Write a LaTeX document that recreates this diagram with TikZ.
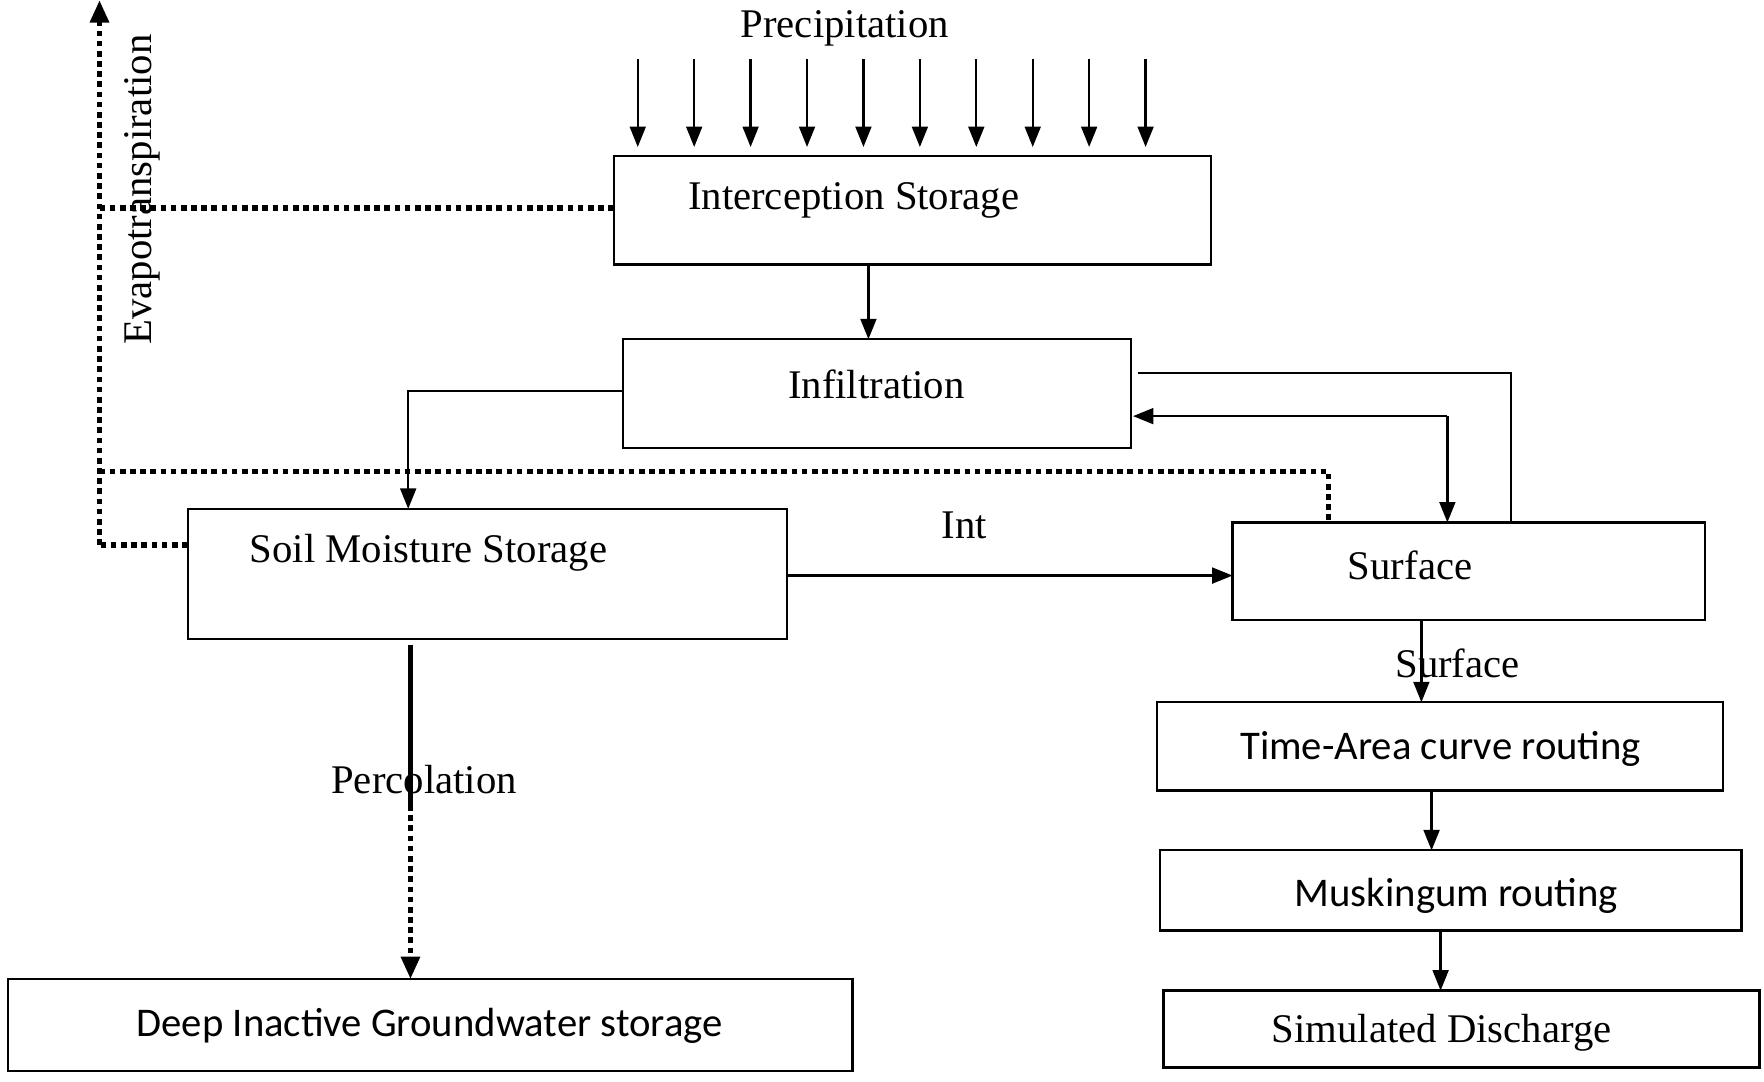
\documentclass[tikz,border=0pt]{standalone}
\usepackage{fontspec}
\setmainfont{Liberation Serif}
\newfontfamily\sansf{Carlito}
\usetikzlibrary{arrows.meta}
\begin{document}
\begin{tikzpicture}[x=0.5pt,y=-0.5pt,
  box/.style={draw,line width=1pt,inner sep=0pt},
  ar/.style={line width=1pt,-{Triangle[length=9pt,width=7pt]}},
  ln/.style={line width=1pt},
  dt/.style={line width=2.5pt,dash pattern=on 2.5pt off 2pt},
  lab/.style={font=\fontsize{18}{20}\selectfont},
  slab/.style={font=\sansf\fontsize{18}{20}\selectfont}]
\useasboundingbox (0,0) rectangle (1560,956);
% boxes
\node[box,minimum width=264pt,minimum height=48pt] (int) at (807,186) {};
\node[lab] at (755,177) {Interception Storage};
\node[box,minimum width=224.5pt,minimum height=48pt] (inf) at (775.5,348) {};
\node[lab] at (775,340) {Infiltration};
\node[box,minimum width=265pt,minimum height=57.5pt] (soil) at (431,507.5) {};
\node[lab] at (379,489) {Soil Moisture Storage};
\node[box,minimum width=209pt,minimum height=43pt] (surf) at (1299,505) {};
\node[lab] at (1247,500) {Surface};
\node[box,minimum width=250.5pt,minimum height=39pt] (ta) at (1273.5,660) {};
\node[slab] at (1274,662) {Time-Area curve routing};
\node[box,minimum width=257pt,minimum height=35.5pt] (mu) at (1283,787.5) {};
\node[slab] at (1288,792) {Muskingum routing};
\node[box,minimum width=263.5pt,minimum height=34pt] (sim) at (1292.5,910) {};
\node[lab] at (1275,913) {Simulated Discharge};
\node[box,minimum width=373.5pt,minimum height=40.5pt] (deep) at (380.5,906.5) {};
\node[slab] at (380,907) {Deep Inactive Groundwater storage};
% precipitation
\node[lab] (pr) at (747,25) {Precipitation};
\foreach \i in {0,...,9} {
  \coordinate (p\i) at (564+\i*49.9,52);
  \draw[ar] (p\i) -- (564+\i*49.9,130);
}
% flows
\draw[ar] (768,234) -- (768,300);
\coordinate (a1) at (361,346);
\draw[ar] (inf.west |- a1) -- (a1) -- (361,450);
\coordinate (b1) at (1006,330); \coordinate (b2) at (1336,330);
\draw[ln] (b1) -- (b2) -- (1336,462);
\coordinate (c1) at (1280,368);
\draw[ar] (c1) -- (1002,368);
\draw[ar] (c1) -- (1280,462);
\draw[ar] (696,509) -- (1090,509);
\node[lab] at (853,465) {Int};
\draw[ar] (1257,548) -- (1257,621);
\node[lab] at (1289,587) {Surface};
\draw[ar] (1266,699) -- (1266,752);
\draw[ar] (1274,823) -- (1274,876);
% percolation
\coordinate (d1) at (363,712);
\draw[line width=2.5pt] (363,570) -- (d1);
\draw[dt,-{Triangle[length=10pt,width=8pt]}] (d1) -- (363,866);
\node[lab] at (375,689) {Percolation};
% evapotranspiration
\coordinate (e0) at (88,0); \coordinate (e1) at (88,482);
\draw[dt] (543,184) -- (88,184);
\draw[dt] (166,482) -- (e1);
\draw[dt,-{Triangle[length=10pt,width=8pt]}] (e1) -- (e0);
\draw[dt] (88,417) -- (1175,417) -- (1175,462);
\node[lab,rotate=90,anchor=south west,inner sep=0pt] at (142,305) {Evapotranspiration};
\end{tikzpicture}
\end{document}
